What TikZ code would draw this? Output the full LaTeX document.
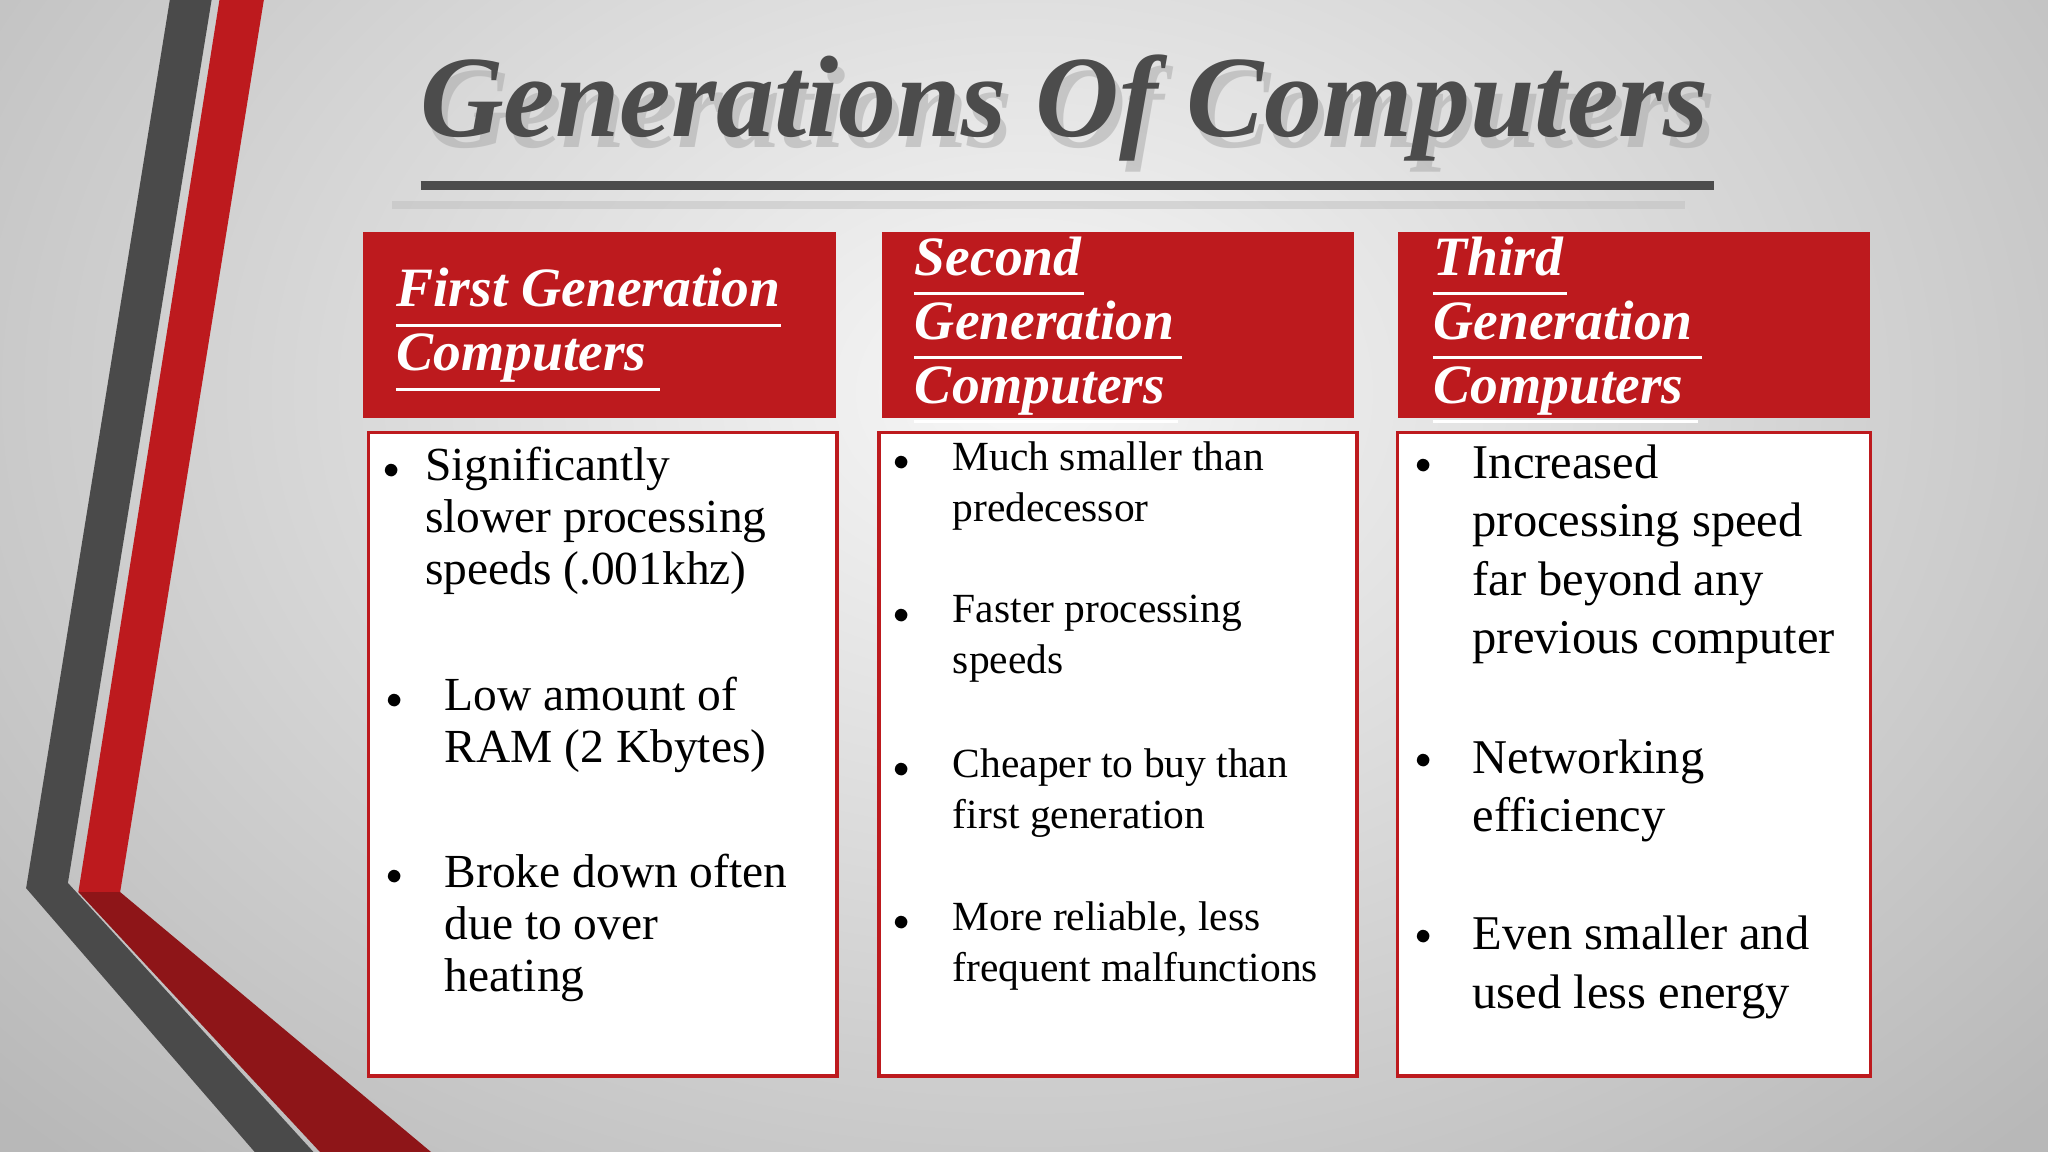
\documentclass[tikz,border=0pt]{standalone}
\usepackage{fontspec}
\setmainfont{Liberation Serif}
\usetikzlibrary{patterns,shadows}
\definecolor{bgA}{HTML}{F7F7F7}
\definecolor{bgB}{HTML}{B8B8B8}
\definecolor{redA}{HTML}{BD1A1E}
\definecolor{darkred}{HTML}{8E1518}
\definecolor{grayS}{HTML}{4A4A4A}
\tikzset{
 hdr/.style={fill=redA,draw=none},
 body/.style={fill=white,draw=redA,line width=1pt},
 htxt/.style={anchor=north west,align=left,text=white,inner sep=0pt,font=\fontsize{15.8}{18.2}\selectfont\bfseries\itshape},
 item/.style={anchor=north west,align=left,inner sep=0pt},
 bul/.style={anchor=north,inner sep=0pt,font=\small},
 ttl/.style={font=\fontsize{33}{36}\selectfont\bfseries\itshape},
}
\begin{document}
\begin{tikzpicture}[x=0.013061cm,y=-0.013061cm]
\useasboundingbox (0,0) rectangle (1568,882);
\shade[inner color=bgA,outer color=bgB] (-300,-500) rectangle (1868,1100);
% stripes
\fill[grayS] (130,0) -- (162,0) -- (52,676) -- (240,882) -- (195,882) -- (20,680) -- cycle;
\fill[redA] (168,0) -- (202,0) -- (92,683) -- (60,683) -- cycle;
\fill[darkred] (60,683) -- (92,683) -- (330,882) -- (245,882) -- cycle;
% title
\node[ttl,text=black!35,opacity=0.5] at (820,91) {Generations Of Computers};
\node[ttl,text=black!70] (title) at (815,83) {Generations Of Computers};
\draw[black!70,line width=2.5pt] (322,142) -- (1312,142);
\fill[black!25,opacity=0.5] (300,154) rectangle (1290,160);
% headers
\fill[hdr] (278,178) rectangle (640,320);
\fill[hdr] (675,178) rectangle (1037,320);
\fill[hdr] (1070,178) rectangle (1432,320);
\node[htxt] (h1) at (303,205) {First Generation\\Computers};
\draw[white,thick] (303,249) -- (598,249) (303,298) -- (505,298);
\node[htxt] (h2) at (700,181) {Second\\Generation\\Computers};
\draw[white,thick] (700,225) -- (830,225) (700,274) -- (905,274) (700,323) -- (902,323);
\node[htxt] (h3) at (1097,181) {Third\\Generation\\Computers};
\draw[white,thick] (1097,225) -- (1200,225) (1097,274) -- (1303,274) (1097,323) -- (1300,323);
% bodies
\draw[body] (282,331) rectangle (641,824);
\draw[body] (673,331) rectangle (1039,824);
\draw[body] (1070,331) rectangle (1432,824);
% column 1
\begin{scope}[every node/.append style={font=\fontsize{13.5}{14.8}\selectfont}]
\node[bul] at (300,355) {$\bullet$};
\node[item] (a1) at (325,342) {Significantly\\slower processing\\speeds (.001khz)};
\node[bul] at (302,531) {$\bullet$};
\node[item] (a2) at (340,518) {Low amount of\\RAM (2 Kbytes)};
\node[bul] at (302,666) {$\bullet$};
\node[item] (a3) at (340,653) {Broke down often\\due to over\\heating};
\end{scope}
% column 2
\begin{scope}[every node/.append style={font=\fontsize{11.8}{14.4}\selectfont}]
\node[bul] at (690,349) {$\bullet$};
\node[item] (b1) at (729,338) {Much smaller than\\predecessor};
\node[bul] at (690,466) {$\bullet$};
\node[item] (b2) at (729,455) {Faster processing\\speeds};
\node[bul] at (690,584) {$\bullet$};
\node[item] (b3) at (729,573) {Cheaper to buy than\\first generation};
\node[bul] at (690,701) {$\bullet$};
\node[item] (b4) at (729,690) {More reliable, less\\frequent malfunctions};
\end{scope}
% column 3
\begin{scope}[every node/.append style={font=\fontsize{13.8}{16.6}\selectfont}]
\node[bul] at (1090,351) {$\bullet$};
\node[item] (c1) at (1127,340) {Increased\\processing speed\\far beyond any\\previous computer};
\node[bul] at (1090,577) {$\bullet$};
\node[item] (c2) at (1127,566) {Networking\\efficiency};
\node[bul] at (1090,712) {$\bullet$};
\node[item] (c3) at (1127,701) {Even smaller and\\used less energy};
\end{scope}
\end{tikzpicture}
\end{document}
